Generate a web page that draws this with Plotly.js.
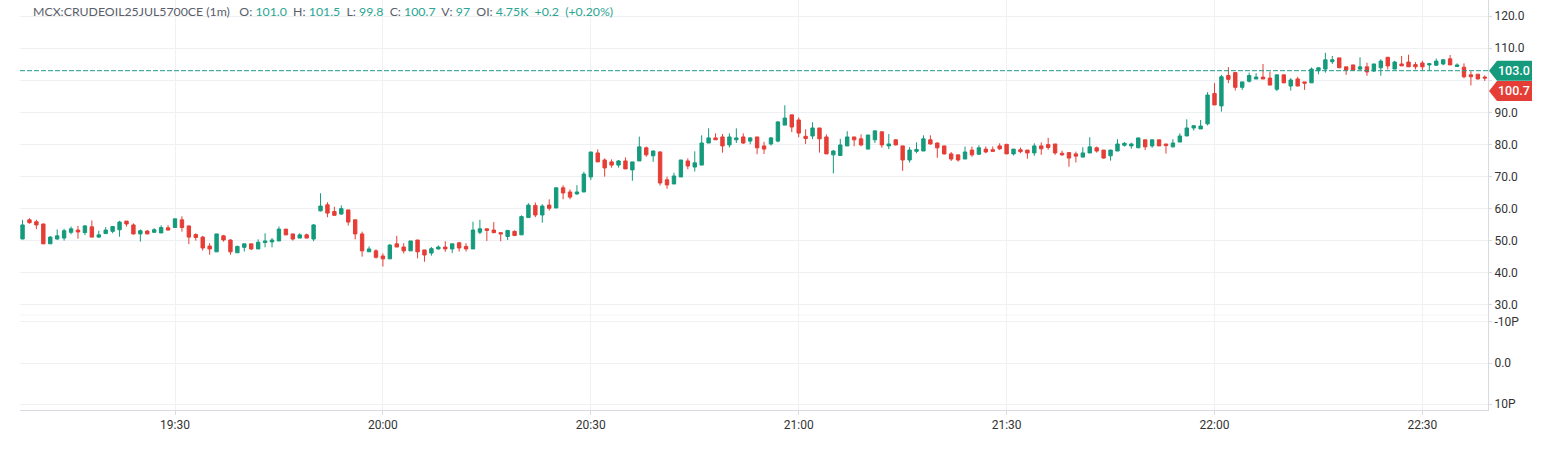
<!DOCTYPE html>
<html>
<head>
<meta charset="utf-8">
<script src="https://cdn.plot.ly/plotly-3.0.1.min.js"></script>
<style>html,body{margin:0;padding:0;background:#fff}#c{width:1549px;height:469px}</style>
</head>
<body>
<div id="c"></div>
<script>
const opens=[50.4,56.4,55.8,55.1,48.9,50.4,50.7,52.5,53.2,52.4,54.2,51.0,52.1,52.8,53.3,56,54.8,52,52.9,52.5,52.3,53.9,54,56.4,54.5,51.8,51,48.2,46.4,51.4,50.1,46.1,47.8,48.9,47.3,
49.3,49.5,49.8,53.5,52,50.7,51.7,50.4,59.2,61.1,59,58.2,59.5,56.4,52,46.4,46.7,45.1,44.2,48.9,47.9,46.7,50.1,47,46,47.3,47.9,47.3,49.2,48.1,47.3,52.5,53.6,53.2,52.4,51.2,52.8,51.7,
57.1,60.9,57.9,61,60.1,66.4,65.1,64.5,65.1,69.8,77.3,75.1,74.5,73.5,74.8,72,74.8,78.9,76.4,77.6,68.9,67.6,69.8,74.8,72.9,73.5,80.4,82,82.3,79.8,81.4,82.3,81,82.3,79.5,
80.1,81,86,89.2,87.6,82.5,82.6,85.1,82.3,76.7,76.5,79.5,82.3,81.7,78.5,81.4,83.9,79.5,81.4,79.5,75.1,77.8,77.9,81.4,80.4,79.5,77,76.7,75.4,78.2,76.9,78.5,78.3,79.5,
80,77,78.3,78.2,77.3,79.5,79.9,80.1,77.2,77.4,77,76,77.3,78.9,78.2,76.4,77.9,79.7,79.5,78.9,81.4,79.5,81.4,80.1,79.2,80.7,82.6,85.1,84.8,86.4,
95.9,92,101.5,102.4,97.8,99.7,100.4,101,100.7,97.2,101.7,98.2,100.4,99.5,99.2,103,103.5,105.8,107,104.2,104.8,103.5,104.2,102.9,103.9,107.2,103.5,105.1,105.7,104.9,105.4,104.8,104.7,105.1,106.7,104.3,104.1,101.7,101.9,101.0];
const highs=[56.4,56.9,56.4,55.2,51.3,53.4,53.6,54.3,54.5,54.8,56.2,53,54.1,54.3,56.1,56,55.3,53.4,53.2,53.8,54.7,54.7,56.7,57.5,54.5,52.2,51.4,49.1,52,51.7,50.3,48.3,48.9,48.9,50.3,
52.2,50.7,54.3,53.5,52,52.2,52.1,55.1,64.7,61.9,60.5,60.9,59.5,56.4,52.7,48.1,47.2,45.9,48.9,51.4,49.1,49.8,50.1,47,47.9,48.4,49.7,48.9,49.5,49.1,55.8,56.4,53.6,55.7,52.4,53.1,53.1,57.8,
61.6,61.8,61.3,62.8,66.4,67.2,65.9,67.2,71.4,77.6,78.4,75.6,75.3,75.1,75.9,74.5,82.4,79.3,78.1,77.8,69.9,71.1,75.1,75.6,77.8,82.8,85,83.4,83.2,83.4,85,83.4,82.3,82.3,80.8,
82.3,87.2,92.2,89.2,88.4,84.7,86.9,85.1,83.1,78.2,81.7,84.1,82.3,83.1,82.9,84.2,83.9,83.2,81.6,79.5,79.1,80.6,82.8,82.8,80.6,79.5,77.6,76.7,79.3,79.3,79.7,79.3,79.3,80.3,
80,78.5,79,78.2,80.3,80.6,82,80.1,78,77.4,77.7,79.1,82.2,79.3,78.2,78.2,81.6,80.7,80.5,82,81.4,81.4,81.4,80.1,81.6,83.4,87.8,86,87.6,96.3,
99.1,101.7,104.1,102.4,99.5,102.4,102.2,105.1,102.7,101.7,101.7,100.7,101.1,99.5,104,104.1,108.6,107.6,107,104.2,104.8,107.2,105.5,105.1,106.6,107.2,106.1,107.6,108,105.7,106.1,105.2,106.8,106.6,107.9,105.3,105.3,102.8,101.9,101.5];
const lows=[50.4,55.2,53.5,48.8,48.9,50.2,49.9,51.9,50.5,51.6,51,50.8,52.1,52.2,51.1,54.3,51.8,49.6,51.9,52.3,52.3,53.1,54,52.7,48.8,49.9,46.8,45.5,46.4,49.6,45.5,46.1,46.5,47,47.3,
47.8,47.8,49.8,51.6,49.9,50.7,50.7,49.7,59,57.2,57.8,58,54.6,50.3,44.9,46.4,44.3,41.8,44.2,47.9,45.9,46.7,44.4,43.3,45.2,47.1,46.4,46,46.5,46.5,47.3,51.9,49.8,52.2,49.7,50.1,51.3,51.7,
57.1,57.2,55.5,59.3,60.1,62.8,62.8,64.2,65.1,68.8,74.5,69.9,72.7,72.7,72.3,68.6,74.8,76.1,74.5,67.1,66.1,67.6,69.8,72.2,71.5,73.5,80.4,81.4,77.4,79,80.4,80.1,80,76.9,77,
79.6,80.6,86,83.8,82.2,80.1,81.6,77.4,77,70.9,76.5,79.5,79.4,79.4,78.5,80.4,78.9,78.5,79.7,71.7,74.3,77.2,77.9,79.9,75.8,76.8,74.8,74.6,75.4,76.1,76.7,77.2,77.7,78.2,
77,76.5,77.2,75.5,76.4,76.7,78.3,76.7,76.4,73,74.3,76,77.3,77.4,75.5,74.9,77.9,79.3,78.6,78.9,78.2,78.9,79.5,77.1,79,80.7,82.6,84.3,84.8,85.9,
92.3,90.2,99.1,96.8,97,99.3,100.4,100.4,98.5,96.6,99.1,96.8,98.2,97,99.2,101.9,102.4,105.1,103.9,101.7,103.2,103.2,101.4,102.6,101.4,103.4,103.5,104.5,104.2,103.4,103.2,103,104.5,104.7,104.8,104.2,100.6,98.4,100.3,99.8];
const closes=[54.8,55.5,54.8,48.9,51,51.4,53,53.6,52.6,54.5,51,51.7,53.2,54.3,55.7,55.1,52,53,52,53.3,54,53.2,56.7,54,51,50.9,47.6,47.3,52,50.1,46.4,48.1,48.9,47.3,49.4,
49.8,50.1,53.5,51.7,50.4,51.7,50.7,54.8,60.7,58.5,57.8,59.9,55.7,52,46.7,47.3,44.7,44.2,48.5,47.9,46.7,49.8,46.4,45.4,47.4,47.9,47.3,48.9,47.6,47.3,53.2,53.6,53.1,52.4,52,53.1,51.5,57.4,
61,57.9,60.7,60,66.4,64.8,63.5,65.1,70.7,77.6,74.5,72.6,73.5,74.8,72.3,74.5,79.2,76.7,77.9,67.9,67.3,70.1,75.1,73.2,74.2,80.4,82,81.4,79.5,82.3,82,80.4,82,78.9,78.5,
82,87,88.2,85.4,83.5,81.8,85.1,81.7,77,77.9,79.8,82.3,81.4,79.8,82.9,84.2,79.8,80.1,79.8,75.1,78.2,78.4,81.7,80.1,78.9,77,75.4,75.1,77.6,76.7,78.9,77.6,77.8,78.6,
77,78.5,77.7,77.3,79.5,78.6,79,77.3,76.7,75.7,76.3,77.3,79.2,77.9,75.7,78.2,80.1,80.3,80.1,82,79.2,81.4,79.5,79.6,80.4,82.6,85.1,85.8,85.7,95.4,
92.3,101.1,100.3,97.8,99.5,101.5,101,100.4,98.5,101.7,99.2,100.1,98.2,99.1,103.5,103.9,106.4,106.4,103.9,103.2,103.2,104.2,102.6,105.1,106,104.5,105.7,104.5,104.2,104.2,104.2,105.2,106,106.4,104.8,104.8,101.1,101.1,100.4,100.7];

const sessionDate='2025-07-08';
const startMinute=19*60+8;
const priceTicks=[30,40,50,60,70,80,90,100,110,120];
const priceLabels=['30.0','40.0','50.0','60.0','70.0','80.0','90.0','','110.0','120.0'];
const lowerTicks=[-10,0,10];
const lowerLabels=['-10P','0.0','10P'];
const lastPrice=103.0;
const closePrice=100.7;
const headerText='MCX:CRUDEOIL25JUL5700CE (1m)';
const up='#159a7c', down='#e53e36', teal='#1f9c8a', grey='#5a5e6a', valueTeal='#2aa693';

function stamp(m){const h=Math.floor(m/60),n=Math.floor(m%60),s=Math.round((m%1)*60);
  const p=x=>String(x).padStart(2,'0');return sessionDate+' '+p(h)+':'+p(n)+':'+p(s);}
const times=opens.map((_,i)=>stamp(startMinute+i));

function v(t){return '<span style="color:'+valueTeal+'">'+t+'</span>';}
const header=headerText+'   O: '+v('101.0')+'  H: '+v('101.5')+'  L: '+v('99.8')+'  C: '+v('100.7')+'  V: '+v('97')+'  OI: '+v('4.75K')+'  '+v('+0.2')+'  '+v('(+0.20%)');

const flag='M 1 0 L 9 -10 L 44 -10 L 44 10 L 9 10 Z';
const labelFont={family:'Roboto, Arial, sans-serif',size:12.5,color:'#fff',weight:500};
const trace={type:'candlestick',x:times,open:opens,high:highs,low:lows,close:closes,xaxis:'x',yaxis:'y',
  increasing:{line:{color:up,width:1},fillcolor:up},decreasing:{line:{color:down,width:1},fillcolor:down},
  whiskerwidth:0,width:28000,hoverinfo:'skip',showlegend:false};
const lowerPane={type:'scatter',x:[times[0]],y:[0],xaxis:'x',yaxis:'y2',mode:'markers',marker:{opacity:0},hoverinfo:'skip',showlegend:false};

const layout={
  width:1549,height:469,paper_bgcolor:'#fff',plot_bgcolor:'#fff',showlegend:false,
  margin:{l:20,r:61,t:0,b:59},
  font:{family:'Roboto, Arial, sans-serif',size:12,color:'#333'},
  xaxis:{type:'date',range:[stamp(startMinute-0.36),stamp(startMinute+211.47)],anchor:'y2',rangeslider:{visible:false},
    tick0:sessionDate+' 19:30:00',dtick:1800000,tickformat:'%H:%M',ticks:'outside',ticklen:4,tickcolor:'#d8dbe2',
    showgrid:true,gridcolor:'#f0f1f4',gridwidth:1,zeroline:false,showline:true,linecolor:'#d8dbe2',
    tickfont:{size:12,color:'#333'}},
  yaxis:{domain:[95/410,1],range:[26.66,125.09],side:'right',anchor:'x',tickmode:'array',tickvals:priceTicks,ticktext:priceLabels,
    ticks:'outside',ticklen:3,tickcolor:'#d8dbe2',showgrid:true,gridcolor:'#eff0f3',gridwidth:1,zeroline:false,
    showline:true,linecolor:'#d8dbe2',tickfont:{size:12,color:'#333'}},
  yaxis2:{domain:[0,95/410],range:[11.39,-11.64],side:'right',anchor:'x',tickmode:'array',tickvals:lowerTicks,ticktext:lowerLabels,
    ticks:'outside',ticklen:3,tickcolor:'#d8dbe2',showgrid:true,gridcolor:'#eff0f3',gridwidth:1,zeroline:false,
    showline:true,linecolor:'#d8dbe2',tickfont:{size:12,color:'#333'}},
  shapes:[
    {type:'line',xref:'paper',x0:0,x1:1,yref:'y',y0:lastPrice,y1:lastPrice,line:{color:teal,width:1,dash:'5px,2px'}},
    {type:'line',xref:'paper',x0:0,x1:1,yref:'paper',y0:95/410,y1:95/410,line:{color:'#f3f4f6',width:1}},
    {type:'path',xref:'paper',yref:'paper',xsizemode:'pixel',ysizemode:'pixel',xanchor:1,yanchor:1-70.7/410,path:flag,fillcolor:up,line:{width:0}},
    {type:'path',xref:'paper',yref:'paper',xsizemode:'pixel',ysizemode:'pixel',xanchor:1,yanchor:1-91/410,path:flag,fillcolor:down,line:{width:0}}
  ],
  annotations:[
    {xref:'paper',yref:'paper',x:1,y:1-70.7/410,xshift:26,xanchor:'center',yanchor:'middle',borderpad:0,borderwidth:0,height:15,text:lastPrice.toFixed(1),showarrow:false,font:labelFont},
    {xref:'paper',yref:'paper',x:1,y:1-91/410,xshift:26,xanchor:'center',yanchor:'middle',borderpad:0,borderwidth:0,height:15,text:closePrice.toFixed(1),showarrow:false,font:labelFont},
    {xref:'paper',yref:'paper',x:0,y:1-11/410,xshift:11,xanchor:'left',yanchor:'middle',align:'left',text:header,showarrow:false,font:{family:'Lato, sans-serif',size:12.3,color:grey}}
  ]
};
Plotly.newPlot('c',[trace,lowerPane],layout,{displayModeBar:false,staticPlot:true});
</script>
</body>
</html>
